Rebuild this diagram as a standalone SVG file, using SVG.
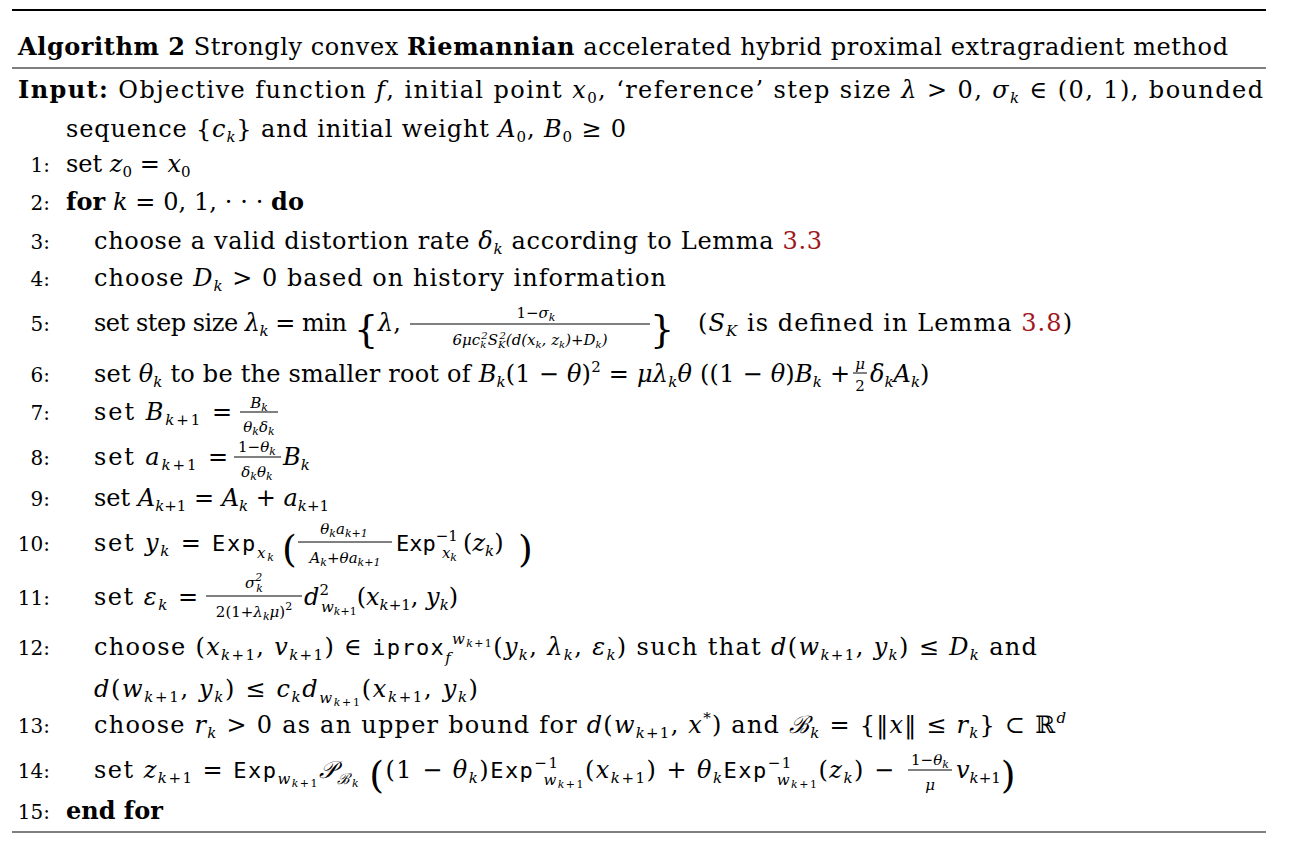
<svg xmlns="http://www.w3.org/2000/svg" width="1296" height="858" viewBox="0 0 1296 858">
<style>
text{font-family:"DejaVu Serif","Liberation Serif",serif;font-size:24px;fill:#000}
.n{font-size:20px;text-anchor:end}
.i{font-style:italic}
.b{font-weight:bold}
.m{font-family:"DejaVu Sans Mono","Liberation Mono",monospace;font-size:22px}
.s{font-size:15px}
.f{font-size:15px;text-anchor:middle}
.r{fill:#a0171c}
.big{font-size:38px}
</style>
<rect width="1296" height="858" fill="#fff"/>
<line x1="12" y1="10" x2="1266" y2="10" stroke="#000" stroke-width="2"/>
<line x1="12" y1="68" x2="1266" y2="68" stroke="#000" stroke-width="1.2"/>
<line x1="12" y1="832" x2="1266" y2="832" stroke="#000" stroke-width="1.2"/>
<text x="18" y="55" textLength="1210" lengthAdjust="spacing"><tspan class="b">Algorithm 2</tspan> Strongly convex <tspan class="b">Riemannian</tspan> accelerated hybrid proximal extragradient method</text>
<text x="18" y="98" textLength="1245" lengthAdjust="spacing"><tspan class="b">Input:</tspan> Objective function <tspan class="i">f</tspan>, initial point <tspan class="i">x</tspan><tspan class="s" dy="5">0</tspan><tspan dy="-5">, ‘reference’ step size </tspan><tspan class="i">λ</tspan> &gt; 0, <tspan class="i">σ</tspan><tspan class="s i" dy="5">k</tspan><tspan dy="-5"> ∈ (0, 1), bounded</tspan></text>
<text x="66" y="137" textLength="560" lengthAdjust="spacing">sequence {<tspan class="i">c</tspan><tspan class="s i" dy="5">k</tspan><tspan dy="-5">} and initial weight </tspan><tspan class="i">A</tspan><tspan class="s" dy="5">0</tspan><tspan dy="-5">, </tspan><tspan class="i">B</tspan><tspan class="s" dy="5">0</tspan><tspan dy="-5"> ≥ 0</tspan></text>
<g>
<text class="n" x="50" y="172">1:</text><text class="n" x="50" y="210">2:</text><text class="n" x="50" y="249">3:</text><text class="n" x="50" y="286">4:</text><text class="n" x="50" y="331">5:</text><text class="n" x="50" y="382">6:</text><text class="n" x="50" y="420">7:</text><text class="n" x="50" y="465">8:</text><text class="n" x="50" y="506">9:</text><text class="n" x="50" y="551">10:</text><text class="n" x="50" y="605">11:</text><text class="n" x="50" y="655">12:</text><text class="n" x="50" y="733">13:</text><text class="n" x="50" y="778">14:</text><text class="n" x="50" y="819">15:</text>
</g>
<text x="66" y="172">set <tspan class="i">z</tspan><tspan class="s" dy="5">0</tspan><tspan dy="-5"> = </tspan><tspan class="i">x</tspan><tspan class="s" dy="5">0</tspan></text>
<text x="66" y="210" textLength="238" lengthAdjust="spacing"><tspan class="b">for</tspan> <tspan class="i">k</tspan> = 0, 1, · · ·  <tspan class="b">do</tspan></text>
<text x="94" y="249" textLength="728" lengthAdjust="spacing">choose a valid distortion rate <tspan class="i">δ</tspan><tspan class="s i" dy="5">k</tspan><tspan dy="-5"> according to Lemma </tspan><tspan class="r">3.3</tspan></text>
<text x="94" y="286" textLength="572" lengthAdjust="spacing">choose <tspan class="i">D</tspan><tspan class="s i" dy="5">k</tspan><tspan dy="-5"> &gt; 0 based on history information</tspan></text>
<text x="94" y="331" textLength="253" lengthAdjust="spacing">set step size <tspan class="i">λ</tspan><tspan class="s i" dy="5">k</tspan><tspan dy="-5"> = min</tspan></text>
<text class="big" x="354" y="342">{</text>
<text x="378" y="331"><tspan class="i">λ</tspan>,</text>
<text class="f" x="536" y="318">1−<tspan class="i">σ</tspan><tspan class="i" font-size="11" dy="3">k</tspan></text>
<line x1="410" y1="324" x2="650" y2="324" stroke="#000" stroke-width="1"/>
<text class="f i" x="530" y="345" font-size="14">6μc<tspan font-size="10" dy="3">k</tspan><tspan font-size="10" dx="-5" dy="-9">2</tspan><tspan dy="6">S</tspan><tspan font-size="10" dy="3">K</tspan><tspan font-size="10" dx="-6" dy="-9">2</tspan><tspan dy="6">(d(x</tspan><tspan font-size="10" dy="3">k</tspan><tspan dy="-3">, z</tspan><tspan font-size="10" dy="3">k</tspan><tspan dy="-3">)+D</tspan><tspan font-size="10" dy="3">k</tspan><tspan dy="-3">)</tspan></text>
<text class="big" x="650" y="342">}</text>
<text x="698" y="331" textLength="374" lengthAdjust="spacing">(<tspan class="i">S</tspan><tspan class="s i" dy="5">K</tspan><tspan dy="-5"> is defined in Lemma </tspan><tspan class="r">3.8</tspan>)</text>
<text x="94" y="382" textLength="756" lengthAdjust="spacing">set <tspan class="i">θ</tspan><tspan class="s i" dy="5">k</tspan><tspan dy="-5"> to be the smaller root of </tspan><tspan class="i">B</tspan><tspan class="s i" dy="5">k</tspan><tspan dy="-5">(1 − </tspan><tspan class="i">θ</tspan>)<tspan class="s" dy="-10">2</tspan><tspan dy="10"> = </tspan><tspan class="i">μλ</tspan><tspan class="s i" dy="5">k</tspan><tspan class="i" dy="-5">θ</tspan> ((1 − <tspan class="i">θ</tspan>)<tspan class="i">B</tspan><tspan class="s i" dy="5">k</tspan><tspan dy="-5"> +</tspan></text>
<text class="f i" x="860" y="369">μ</text><line x1="853" y1="373" x2="867" y2="373" stroke="#000"/><text class="f" x="860" y="391">2</text>
<text x="870" y="382"><tspan class="i">δ</tspan><tspan class="s i" dy="5">k</tspan><tspan class="i" dy="-5">A</tspan><tspan class="s i" dy="5">k</tspan><tspan dy="-5">)</tspan></text>
<text x="94" y="420" textLength="138" lengthAdjust="spacing">set <tspan class="i">B</tspan><tspan class="s i" dy="5">k</tspan><tspan class="s">+1</tspan><tspan dy="-5"> =</tspan></text>
<text class="f i" x="259" y="408">B<tspan font-size="11" dy="3">k</tspan></text><line x1="240" y1="412" x2="278" y2="412" stroke="#000"/><text class="f i" x="259" y="432">θ<tspan font-size="11" dy="3">k</tspan><tspan dy="-3">δ</tspan><tspan font-size="11" dy="3">k</tspan></text>
<text x="94" y="465" textLength="134" lengthAdjust="spacing">set <tspan class="i">a</tspan><tspan class="s i" dy="5">k</tspan><tspan class="s">+1</tspan><tspan dy="-5"> =</tspan></text>
<text class="f" x="257" y="452">1−<tspan class="i">θ</tspan><tspan class="i" font-size="11" dy="3">k</tspan></text><line x1="234" y1="457" x2="281" y2="457" stroke="#000"/><text class="f i" x="257" y="477">δ<tspan font-size="11" dy="3">k</tspan><tspan dy="-3">θ</tspan><tspan font-size="11" dy="3">k</tspan></text>
<text x="283" y="465"><tspan class="i">B</tspan><tspan class="s i" dy="5">k</tspan></text>
<text x="94" y="506">set <tspan class="i">A</tspan><tspan class="s i" dy="5">k</tspan><tspan class="s">+1</tspan><tspan dy="-5"> = </tspan><tspan class="i">A</tspan><tspan class="s i" dy="5">k</tspan><tspan dy="-5"> + </tspan><tspan class="i">a</tspan><tspan class="s i" dy="5">k</tspan><tspan class="s">+1</tspan></text>
<text x="94" y="551" textLength="180" lengthAdjust="spacing">set <tspan class="i">y</tspan><tspan class="s i" dy="5">k</tspan><tspan dy="-5"> = </tspan><tspan class="m">Exp</tspan><tspan class="s i" dy="7">x</tspan><tspan class="i" font-size="11" dy="3">k</tspan></text>
<text class="big" x="282" y="562">(</text>
<text class="f i" x="344" y="534">θ<tspan font-size="11" dy="3">k</tspan><tspan dy="-3">a</tspan><tspan font-size="11" dy="3">k+1</tspan></text><line x1="298" y1="542" x2="392" y2="542" stroke="#000"/><text class="f i" x="345" y="563">A<tspan font-size="11" dy="3">k</tspan><tspan dy="-3">+θa</tspan><tspan font-size="11" dy="3">k+1</tspan></text>
<text x="396" y="551"><tspan class="m">Exp</tspan><tspan class="s" dy="-10">−1</tspan><tspan class="s i" dx="-16" dy="17">x</tspan><tspan class="i" font-size="11" dy="3">k</tspan><tspan dx="6" dy="-10">(</tspan><tspan class="i">z</tspan><tspan class="s i" dy="5">k</tspan><tspan dy="-5">)</tspan></text>
<text class="big" x="518" y="562">)</text>
<text x="94" y="605" textLength="104" lengthAdjust="spacing">set <tspan class="i">ε</tspan><tspan class="s i" dy="5">k</tspan><tspan dy="-5"> =</tspan></text>
<text class="f i" x="254" y="588">σ<tspan font-size="11" dy="-7">2</tspan><tspan font-size="11" dx="-6" dy="11">k</tspan></text><line x1="206" y1="596" x2="302" y2="596" stroke="#000"/><text class="f" x="254" y="617">2(1+<tspan class="i">λ</tspan><tspan class="i" font-size="11" dy="3">k</tspan><tspan class="i" dy="-3">μ</tspan>)<tspan font-size="11" dy="-7">2</tspan></text>
<text x="304" y="605"><tspan class="i">d</tspan><tspan class="s" dy="-10">2</tspan><tspan class="s i" dx="-8" dy="17">w</tspan><tspan class="i" font-size="11" dy="3">k</tspan><tspan font-size="11">+1</tspan><tspan dy="-10">(</tspan><tspan class="i">x</tspan><tspan class="s i" dy="5">k</tspan><tspan class="s">+1</tspan><tspan dy="-5">, </tspan><tspan class="i">y</tspan><tspan class="s i" dy="5">k</tspan><tspan dy="-5">)</tspan></text>
<text x="94" y="655" textLength="943" lengthAdjust="spacing">choose (<tspan class="i">x</tspan><tspan class="s i" dy="5">k</tspan><tspan class="s">+1</tspan><tspan dy="-5">, </tspan><tspan class="i">v</tspan><tspan class="s i" dy="5">k</tspan><tspan class="s">+1</tspan><tspan dy="-5">) ∈ </tspan><tspan class="m">iprox</tspan><tspan class="s i" dy="8">f</tspan><tspan class="s i" dy="-19">w</tspan><tspan class="i" font-size="11" dy="3">k</tspan><tspan font-size="11">+1</tspan><tspan dy="8">(</tspan><tspan class="i">y</tspan><tspan class="s i" dy="5">k</tspan><tspan dy="-5">, </tspan><tspan class="i">λ</tspan><tspan class="s i" dy="5">k</tspan><tspan dy="-5">, </tspan><tspan class="i">ε</tspan><tspan class="s i" dy="5">k</tspan><tspan dy="-5">) such that </tspan><tspan class="i">d</tspan>(<tspan class="i">w</tspan><tspan class="s i" dy="5">k</tspan><tspan class="s">+1</tspan><tspan dy="-5">, </tspan><tspan class="i">y</tspan><tspan class="s i" dy="5">k</tspan><tspan dy="-5">) ≤ </tspan><tspan class="i">D</tspan><tspan class="s i" dy="5">k</tspan><tspan dy="-5"> and</tspan></text>
<text x="94" y="697" textLength="384" lengthAdjust="spacing"><tspan class="i">d</tspan>(<tspan class="i">w</tspan><tspan class="s i" dy="5">k</tspan><tspan class="s">+1</tspan><tspan dy="-5">, </tspan><tspan class="i">y</tspan><tspan class="s i" dy="5">k</tspan><tspan dy="-5">) ≤ </tspan><tspan class="i">c</tspan><tspan class="s i" dy="5">k</tspan><tspan class="i" dy="-5">d</tspan><tspan class="s i" dy="6">w</tspan><tspan class="i" font-size="11" dy="3">k</tspan><tspan font-size="11">+1</tspan><tspan dy="-9">(</tspan><tspan class="i">x</tspan><tspan class="s i" dy="5">k</tspan><tspan class="s">+1</tspan><tspan dy="-5">, </tspan><tspan class="i">y</tspan><tspan class="s i" dy="5">k</tspan><tspan dy="-5">)</tspan></text>
<text x="94" y="733" textLength="972" lengthAdjust="spacing">choose <tspan class="i">r</tspan><tspan class="s i" dy="5">k</tspan><tspan dy="-5"> &gt; 0 as an upper bound for </tspan><tspan class="i">d</tspan>(<tspan class="i">w</tspan><tspan class="s i" dy="5">k</tspan><tspan class="s">+1</tspan><tspan dy="-5">, </tspan><tspan class="i">x</tspan><tspan class="s" dy="-10">*</tspan><tspan dy="10">) and </tspan><tspan class="i">ℬ</tspan><tspan class="s i" dy="5">k</tspan><tspan dy="-5"> = {‖</tspan><tspan class="i">x</tspan>‖ ≤ <tspan class="i">r</tspan><tspan class="s i" dy="5">k</tspan><tspan dy="-5">} ⊂ ℝ</tspan><tspan class="s i" dy="-10">d</tspan></text>
<text x="94" y="778" textLength="800" lengthAdjust="spacing">set <tspan class="i">z</tspan><tspan class="s i" dy="5">k</tspan><tspan class="s">+1</tspan><tspan dy="-5"> = </tspan><tspan class="m">Exp</tspan><tspan class="s i" dy="6">w</tspan><tspan class="i" font-size="11" dy="3">k</tspan><tspan font-size="11">+1</tspan><tspan class="i" dy="-9">𝒫</tspan><tspan class="s i" dy="6">ℬ</tspan><tspan class="i" font-size="11" dy="3">k</tspan><tspan dy="-9"> </tspan><tspan class="big" dy="10">(</tspan><tspan dy="-10">(1 − </tspan><tspan class="i">θ</tspan><tspan class="s i" dy="5">k</tspan><tspan dy="-5">)</tspan><tspan class="m">Exp</tspan><tspan class="s" dy="-10">−1</tspan><tspan class="s i" dx="-16" dy="17">w</tspan><tspan class="i" font-size="11" dy="3">k</tspan><tspan font-size="11">+1</tspan><tspan dy="-10">(</tspan><tspan class="i">x</tspan><tspan class="s i" dy="5">k</tspan><tspan class="s">+1</tspan><tspan dy="-5">) + </tspan><tspan class="i">θ</tspan><tspan class="s i" dy="5">k</tspan><tspan class="m" dy="-5">Exp</tspan><tspan class="s" dy="-10">−1</tspan><tspan class="s i" dx="-16" dy="17">w</tspan><tspan class="i" font-size="11" dy="3">k</tspan><tspan font-size="11">+1</tspan><tspan dy="-10">(</tspan><tspan class="i">z</tspan><tspan class="s i" dy="5">k</tspan><tspan dy="-5">) −</tspan></text>
<text class="f" x="930" y="765">1−<tspan class="i">θ</tspan><tspan class="i" font-size="11" dy="3">k</tspan></text><line x1="908" y1="770" x2="952" y2="770" stroke="#000"/><text class="f i" x="930" y="790">μ</text>
<text x="956" y="778"><tspan class="i">v</tspan><tspan class="s i" dy="5">k</tspan><tspan class="s">+1</tspan><tspan class="big" dy="5">)</tspan></text>
<text x="66" y="819" class="b">end for</text>
</svg>
